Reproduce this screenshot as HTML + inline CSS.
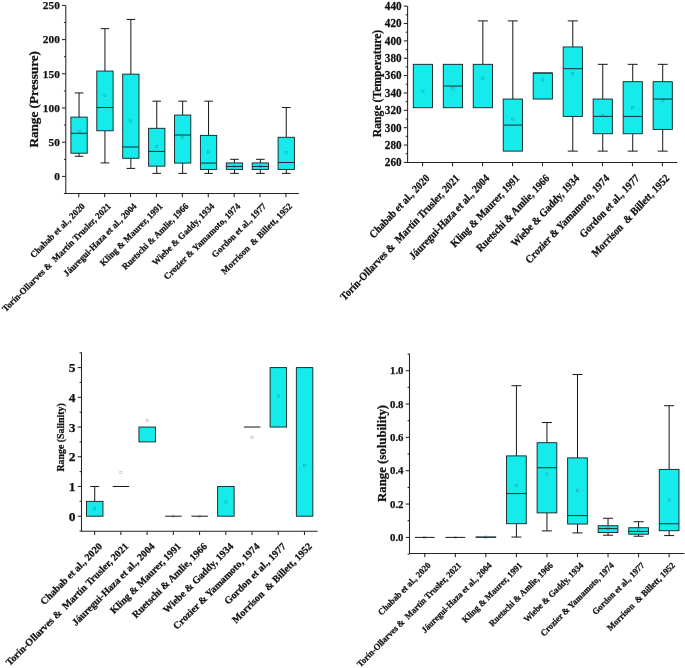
<!DOCTYPE html>
<html><head><meta charset="utf-8"><title>Box plots</title>
<style>
html,body{margin:0;padding:0;background:#fff}
svg{display:block}
text{font-family:"Liberation Serif",serif;font-weight:bold;fill:#111;stroke:#111;stroke-width:.25}
.a{stroke:#242424;stroke-width:1.05;fill:none}
.l{stroke:#161616;stroke-width:1;fill:none}
.m{stroke:#183434;stroke-width:1.05;fill:none}
.b{fill:#15ebeb;stroke:#141e1e;stroke-width:.9}
.mk{fill:none;stroke:#234;stroke-width:0.45;opacity:.45}
</style></head><body>
<svg width="685" height="668" viewBox="0 0 685 668">
<rect width="685" height="668" fill="#fff"/>
<path d="M79.05 117.1V92.95M74.75 92.95H83.35" class="l"/>
<path d="M79.05 153.21V156.29M74.75 156.29H83.35" class="l"/>
<rect x="70.9" y="117.1" width="16.3" height="36.12" class="b"/>
<path d="M70.9 133.31H87.2" class="m"/>
<rect x="77.95" y="130.16" width="2.2" height="2.2" class="mk"/>
<path d="M104.95 71.06V28.66M100.65 28.66H109.25" class="l"/>
<path d="M104.95 130.78V162.93M100.65 162.93H109.25" class="l"/>
<rect x="96.8" y="71.06" width="16.3" height="59.71" class="b"/>
<path d="M96.8 107.52H113.1" class="m"/>
<rect x="103.85" y="94.59" width="2.2" height="2.2" class="mk"/>
<path d="M130.85 74.14V19.42M126.55 19.42H135.15" class="l"/>
<path d="M130.85 158.27V168.4M126.55 168.4H135.15" class="l"/>
<rect x="122.7" y="74.14" width="16.3" height="84.13" class="b"/>
<path d="M122.7 146.99H139" class="m"/>
<rect x="129.75" y="119.9" width="2.2" height="2.2" class="mk"/>
<path d="M156.75 128.31V101.16M152.45 101.16H161.05" class="l"/>
<path d="M156.75 166.14V173.39M152.45 173.39H161.05" class="l"/>
<rect x="148.6" y="128.31" width="16.3" height="37.83" class="b"/>
<path d="M148.6 151.43H164.9" class="m"/>
<rect x="155.65" y="145.2" width="2.2" height="2.2" class="mk"/>
<path d="M182.65 115.05V101.16M178.35 101.16H186.95" class="l"/>
<path d="M182.65 163.06V173.39M178.35 173.39H186.95" class="l"/>
<rect x="174.5" y="115.05" width="16.3" height="48.02" class="b"/>
<path d="M174.5 135.02H190.8" class="m"/>
<rect x="181.55" y="136.31" width="2.2" height="2.2" class="mk"/>
<path d="M208.55 135.36V101.16M204.25 101.16H212.85" class="l"/>
<path d="M208.55 169.42V173.39M204.25 173.39H212.85" class="l"/>
<rect x="200.4" y="135.36" width="16.3" height="34.06" class="b"/>
<path d="M200.4 163.06H216.7" class="m"/>
<rect x="207.45" y="150.68" width="2.2" height="2.2" class="mk"/>
<path d="M234.45 162.93V159.3M230.15 159.3H238.75" class="l"/>
<path d="M234.45 169.42V173.39M230.15 173.39H238.75" class="l"/>
<rect x="226.3" y="162.93" width="16.3" height="6.5" class="b"/>
<path d="M226.3 166.48H242.6" class="m"/>
<rect x="233.35" y="165.38" width="2.2" height="2.2" class="mk"/>
<path d="M260.35 162.93V159.3M256.05 159.3H264.65" class="l"/>
<path d="M260.35 169.42V173.39M256.05 173.39H264.65" class="l"/>
<rect x="252.2" y="162.93" width="16.3" height="6.5" class="b"/>
<path d="M252.2 166.48H268.5" class="m"/>
<rect x="259.25" y="165.38" width="2.2" height="2.2" class="mk"/>
<path d="M286.25 137.28V107.52M281.95 107.52H290.55" class="l"/>
<path d="M286.25 169.42V173.39M281.95 173.39H290.55" class="l"/>
<rect x="278.1" y="137.28" width="16.3" height="32.15" class="b"/>
<path d="M278.1 162.51H294.4" class="m"/>
<rect x="285.15" y="151.36" width="2.2" height="2.2" class="mk"/>
<path d="M65.8 5.6V193.5H298.9" class="a"/>
<path d="M62 176.4H65.8" class="a"/>
<text transform="translate(59.8 180.13) scale(1 1)" text-anchor="end" font-size="11.3">0</text>
<path d="M62 142.2H65.8" class="a"/>
<text transform="translate(59.8 145.93) scale(1 1)" text-anchor="end" font-size="11.3">50</text>
<path d="M62 108H65.8" class="a"/>
<text transform="translate(59.8 111.73) scale(1 1)" text-anchor="end" font-size="11.3">100</text>
<path d="M62 73.8H65.8" class="a"/>
<text transform="translate(59.8 77.53) scale(1 1)" text-anchor="end" font-size="11.3">150</text>
<path d="M62 39.6H65.8" class="a"/>
<text transform="translate(59.8 43.33) scale(1 1)" text-anchor="end" font-size="11.3">200</text>
<path d="M62 5.4H65.8" class="a"/>
<text transform="translate(59.8 9.13) scale(1 1)" text-anchor="end" font-size="11.3">250</text>
<path d="M63.9 193.5H65.8" class="a"/>
<path d="M63.9 159.3H65.8" class="a"/>
<path d="M63.9 125.1H65.8" class="a"/>
<path d="M63.9 90.9H65.8" class="a"/>
<path d="M63.9 56.7H65.8" class="a"/>
<path d="M63.9 22.5H65.8" class="a"/>
<path d="M78.75 193.5V197.3" class="a"/>
<text transform="translate(85.45 206.8) scale(1 1) rotate(-45) scale(0.977 1)" text-anchor="end" font-size="9.15" xml:space="preserve">Chabab et al., 2020</text>
<path d="M104.65 193.5V197.3" class="a"/>
<text transform="translate(111.35 206.8) scale(1 1) rotate(-45) scale(0.977 1)" text-anchor="end" font-size="9.15" xml:space="preserve">Torín-Ollarves &amp;  Martín Trusler, 2021</text>
<path d="M130.55 193.5V197.3" class="a"/>
<text transform="translate(137.25 206.8) scale(1 1) rotate(-45) scale(0.977 1)" text-anchor="end" font-size="9.15" xml:space="preserve">Jáuregui-Haza et al., 2004</text>
<path d="M156.45 193.5V197.3" class="a"/>
<text transform="translate(163.15 206.8) scale(1 1) rotate(-45) scale(0.977 1)" text-anchor="end" font-size="9.15" xml:space="preserve">Kling &amp; Maurer, 1991</text>
<path d="M182.35 193.5V197.3" class="a"/>
<text transform="translate(189.05 206.8) scale(1 1) rotate(-45) scale(0.977 1)" text-anchor="end" font-size="9.15" xml:space="preserve">Ruetschi &amp; Amlie, 1966</text>
<path d="M208.25 193.5V197.3" class="a"/>
<text transform="translate(214.95 206.8) scale(1 1) rotate(-45) scale(0.977 1)" text-anchor="end" font-size="9.15" xml:space="preserve">Wiebe &amp; Gaddy, 1934</text>
<path d="M234.15 193.5V197.3" class="a"/>
<text transform="translate(240.85 206.8) scale(1 1) rotate(-45) scale(0.977 1)" text-anchor="end" font-size="9.15" xml:space="preserve">Crozier &amp; Yamamoto, 1974</text>
<path d="M260.05 193.5V197.3" class="a"/>
<text transform="translate(266.75 206.8) scale(1 1) rotate(-45) scale(0.977 1)" text-anchor="end" font-size="9.15" xml:space="preserve">Gordon et al., 1977</text>
<path d="M285.95 193.5V197.3" class="a"/>
<text transform="translate(292.65 206.8) scale(1 1) rotate(-45) scale(0.977 1)" text-anchor="end" font-size="9.15" xml:space="preserve">Morrison  &amp; Billett, 1952</text>
<text transform="translate(37.7 99.3) rotate(-90)" text-anchor="middle" font-size="13.2">Range (Pressure)</text>
<rect x="413.29" y="64.32" width="19.2" height="43.4" class="b"/>
<rect x="421.79" y="90.12" width="2.2" height="2.2" class="mk"/>
<rect x="443.27" y="64.32" width="19.2" height="43.4" class="b"/>
<path d="M443.27 86.02H462.47" class="m"/>
<rect x="451.77" y="87.09" width="2.2" height="2.2" class="mk"/>
<path d="M482.84 64.32V20.92M477.84 20.92H487.84" class="l"/>
<rect x="473.24" y="64.32" width="19.2" height="43.4" class="b"/>
<rect x="481.74" y="77.1" width="2.2" height="2.2" class="mk"/>
<path d="M512.82 99.04V20.92M507.82 20.92H517.82" class="l"/>
<rect x="503.22" y="99.04" width="19.2" height="52.08" class="b"/>
<path d="M503.22 125.08H522.42" class="m"/>
<rect x="511.72" y="117.9" width="2.2" height="2.2" class="mk"/>
<rect x="533.2" y="73" width="19.2" height="26.04" class="b"/>
<path d="M533.2 73H552.4" class="m"/>
<rect x="541.7" y="78.84" width="2.2" height="2.2" class="mk"/>
<path d="M572.78 46.96V20.92M567.78 20.92H577.78" class="l"/>
<path d="M572.78 116.4V151.12M567.78 151.12H577.78" class="l"/>
<rect x="563.18" y="46.96" width="19.2" height="69.44" class="b"/>
<path d="M563.18 68.66H582.38" class="m"/>
<rect x="571.68" y="72.76" width="2.2" height="2.2" class="mk"/>
<path d="M602.76 99.04V64.32M597.76 64.32H607.76" class="l"/>
<path d="M602.76 133.76V151.12M597.76 151.12H607.76" class="l"/>
<rect x="593.16" y="99.04" width="19.2" height="34.72" class="b"/>
<path d="M593.16 116.4H612.36" class="m"/>
<rect x="601.66" y="114.43" width="2.2" height="2.2" class="mk"/>
<path d="M632.73 81.68V64.32M627.73 64.32H637.73" class="l"/>
<path d="M632.73 133.76V151.12M627.73 151.12H637.73" class="l"/>
<rect x="623.13" y="81.68" width="19.2" height="52.08" class="b"/>
<path d="M623.13 116.4H642.33" class="m"/>
<rect x="631.63" y="106.62" width="2.2" height="2.2" class="mk"/>
<path d="M662.71 81.68V64.32M657.71 64.32H667.71" class="l"/>
<path d="M662.71 129.42V151.12M657.71 151.12H667.71" class="l"/>
<rect x="653.11" y="81.68" width="19.2" height="47.74" class="b"/>
<path d="M653.11 99.04H672.31" class="m"/>
<rect x="661.61" y="99.67" width="2.2" height="2.2" class="mk"/>
<path d="M407.6 6.2V162.4H677.4" class="a"/>
<path d="M403.8 162.4H407.6" class="a"/>
<text transform="translate(401.6 166.29) scale(0.95 1)" text-anchor="end" font-size="11.8">260</text>
<path d="M403.8 145.04H407.6" class="a"/>
<text transform="translate(401.6 148.93) scale(0.95 1)" text-anchor="end" font-size="11.8">280</text>
<path d="M403.8 127.68H407.6" class="a"/>
<text transform="translate(401.6 131.57) scale(0.95 1)" text-anchor="end" font-size="11.8">300</text>
<path d="M403.8 110.32H407.6" class="a"/>
<text transform="translate(401.6 114.21) scale(0.95 1)" text-anchor="end" font-size="11.8">320</text>
<path d="M403.8 92.96H407.6" class="a"/>
<text transform="translate(401.6 96.85) scale(0.95 1)" text-anchor="end" font-size="11.8">340</text>
<path d="M403.8 75.6H407.6" class="a"/>
<text transform="translate(401.6 79.49) scale(0.95 1)" text-anchor="end" font-size="11.8">360</text>
<path d="M403.8 58.24H407.6" class="a"/>
<text transform="translate(401.6 62.13) scale(0.95 1)" text-anchor="end" font-size="11.8">380</text>
<path d="M403.8 40.88H407.6" class="a"/>
<text transform="translate(401.6 44.77) scale(0.95 1)" text-anchor="end" font-size="11.8">400</text>
<path d="M403.8 23.52H407.6" class="a"/>
<text transform="translate(401.6 27.41) scale(0.95 1)" text-anchor="end" font-size="11.8">420</text>
<path d="M403.8 6.16H407.6" class="a"/>
<text transform="translate(401.6 10.05) scale(0.95 1)" text-anchor="end" font-size="11.8">440</text>
<path d="M405.7 153.72H407.6" class="a"/>
<path d="M405.7 136.36H407.6" class="a"/>
<path d="M405.7 119H407.6" class="a"/>
<path d="M405.7 101.64H407.6" class="a"/>
<path d="M405.7 84.28H407.6" class="a"/>
<path d="M405.7 66.92H407.6" class="a"/>
<path d="M405.7 49.56H407.6" class="a"/>
<path d="M405.7 32.2H407.6" class="a"/>
<path d="M405.7 14.84H407.6" class="a"/>
<path d="M422.59 162.4V166.2" class="a"/>
<text transform="translate(430.09 178.9) scale(1 1.06) rotate(-45) scale(0.922 1)" text-anchor="end" font-size="10.6" xml:space="preserve">Chabab et al., 2020</text>
<path d="M452.57 162.4V166.2" class="a"/>
<text transform="translate(460.07 178.9) scale(1 1.06) rotate(-45) scale(0.922 1)" text-anchor="end" font-size="10.6" xml:space="preserve">Torín-Ollarves &amp;  Martín Trusler, 2021</text>
<path d="M482.54 162.4V166.2" class="a"/>
<text transform="translate(490.04 178.9) scale(1 1.06) rotate(-45) scale(0.922 1)" text-anchor="end" font-size="10.6" xml:space="preserve">Jáuregui-Haza et al., 2004</text>
<path d="M512.52 162.4V166.2" class="a"/>
<text transform="translate(520.02 178.9) scale(1 1.06) rotate(-45) scale(0.922 1)" text-anchor="end" font-size="10.6" xml:space="preserve">Kling &amp; Maurer, 1991</text>
<path d="M542.5 162.4V166.2" class="a"/>
<text transform="translate(550 178.9) scale(1 1.06) rotate(-45) scale(0.922 1)" text-anchor="end" font-size="10.6" xml:space="preserve">Ruetschi &amp; Amlie, 1966</text>
<path d="M572.48 162.4V166.2" class="a"/>
<text transform="translate(579.98 178.9) scale(1 1.06) rotate(-45) scale(0.922 1)" text-anchor="end" font-size="10.6" xml:space="preserve">Wiebe &amp; Gaddy, 1934</text>
<path d="M602.46 162.4V166.2" class="a"/>
<text transform="translate(609.96 178.9) scale(1 1.06) rotate(-45) scale(0.922 1)" text-anchor="end" font-size="10.6" xml:space="preserve">Crozier &amp; Yamamoto, 1974</text>
<path d="M632.43 162.4V166.2" class="a"/>
<text transform="translate(639.93 178.9) scale(1 1.06) rotate(-45) scale(0.922 1)" text-anchor="end" font-size="10.6" xml:space="preserve">Gordon et al., 1977</text>
<path d="M662.41 162.4V166.2" class="a"/>
<text transform="translate(669.91 178.9) scale(1 1.06) rotate(-45) scale(0.922 1)" text-anchor="end" font-size="10.6" xml:space="preserve">Morrison  &amp; Billett, 1952</text>
<text transform="translate(380.5 83.5) rotate(-90)" text-anchor="middle" font-size="11.7">Range (Temperature)</text>
<path d="M94.72 501.34V486.48M90.32 486.48H99.12" class="l"/>
<rect x="86.47" y="501.34" width="16.5" height="14.86" class="b"/>
<rect x="93.62" y="507.67" width="2.2" height="2.2" class="mk"/>
<path d="M112.7 486.48H129.2" class="l"/>
<rect x="119.85" y="471.41" width="2.2" height="2.2" class="mk"/>
<rect x="138.93" y="427.04" width="16.5" height="14.86" class="b"/>
<rect x="146.08" y="419.4" width="2.2" height="2.2" class="mk"/>
<path d="M165.17 516.2H181.67" class="l"/>
<rect x="172.32" y="515.1" width="2.2" height="2.2" class="mk"/>
<path d="M191.4 516.2H207.9" class="l"/>
<rect x="198.55" y="515.1" width="2.2" height="2.2" class="mk"/>
<rect x="217.63" y="486.48" width="16.5" height="29.72" class="b"/>
<rect x="224.78" y="500.83" width="2.2" height="2.2" class="mk"/>
<path d="M243.87 427.04H260.37" class="l"/>
<rect x="251.02" y="436.34" width="2.2" height="2.2" class="mk"/>
<rect x="270.1" y="367.6" width="16.5" height="59.44" class="b"/>
<rect x="277.25" y="395.03" width="2.2" height="2.2" class="mk"/>
<rect x="296.33" y="367.6" width="16.5" height="148.6" class="b"/>
<rect x="303.48" y="464.58" width="2.2" height="2.2" class="mk"/>
<path d="M81.5 352.4V531.2H317.6" class="a"/>
<path d="M77.7 516.2H81.5" class="a"/>
<text transform="translate(75.5 520.66) scale(1 1)" text-anchor="end" font-size="13.5">0</text>
<path d="M77.7 486.48H81.5" class="a"/>
<text transform="translate(75.5 490.94) scale(1 1)" text-anchor="end" font-size="13.5">1</text>
<path d="M77.7 456.76H81.5" class="a"/>
<text transform="translate(75.5 461.22) scale(1 1)" text-anchor="end" font-size="13.5">2</text>
<path d="M77.7 427.04H81.5" class="a"/>
<text transform="translate(75.5 431.5) scale(1 1)" text-anchor="end" font-size="13.5">3</text>
<path d="M77.7 397.32H81.5" class="a"/>
<text transform="translate(75.5 401.78) scale(1 1)" text-anchor="end" font-size="13.5">4</text>
<path d="M77.7 367.6H81.5" class="a"/>
<text transform="translate(75.5 372.06) scale(1 1)" text-anchor="end" font-size="13.5">5</text>
<path d="M79.6 531.06H81.5" class="a"/>
<path d="M79.6 501.34H81.5" class="a"/>
<path d="M79.6 471.62H81.5" class="a"/>
<path d="M79.6 441.9H81.5" class="a"/>
<path d="M79.6 412.18H81.5" class="a"/>
<path d="M79.6 382.46H81.5" class="a"/>
<path d="M79.6 352.74H81.5" class="a"/>
<path d="M94.62 531.2V535" class="a"/>
<text transform="translate(102.82 546.95) scale(1 1) rotate(-45) scale(1 1)" text-anchor="end" font-size="10.1" xml:space="preserve">Chabab et al., 2020</text>
<path d="M120.85 531.2V535" class="a"/>
<text transform="translate(129.05 546.95) scale(1 1) rotate(-45) scale(1 1)" text-anchor="end" font-size="10.1" xml:space="preserve">Torín-Ollarves &amp;  Martín Trusler, 2021</text>
<path d="M147.08 531.2V535" class="a"/>
<text transform="translate(155.28 546.95) scale(1 1) rotate(-45) scale(1 1)" text-anchor="end" font-size="10.1" xml:space="preserve">Jáuregui-Haza et al., 2004</text>
<path d="M173.32 531.2V535" class="a"/>
<text transform="translate(181.52 546.95) scale(1 1) rotate(-45) scale(1 1)" text-anchor="end" font-size="10.1" xml:space="preserve">Kling &amp; Maurer, 1991</text>
<path d="M199.55 531.2V535" class="a"/>
<text transform="translate(207.75 546.95) scale(1 1) rotate(-45) scale(1 1)" text-anchor="end" font-size="10.1" xml:space="preserve">Ruetschi &amp; Amlie, 1966</text>
<path d="M225.78 531.2V535" class="a"/>
<text transform="translate(233.98 546.95) scale(1 1) rotate(-45) scale(1 1)" text-anchor="end" font-size="10.1" xml:space="preserve">Wiebe &amp; Gaddy, 1934</text>
<path d="M252.02 531.2V535" class="a"/>
<text transform="translate(260.22 546.95) scale(1 1) rotate(-45) scale(1 1)" text-anchor="end" font-size="10.1" xml:space="preserve">Crozier &amp; Yamamoto, 1974</text>
<path d="M278.25 531.2V535" class="a"/>
<text transform="translate(286.45 546.95) scale(1 1) rotate(-45) scale(1 1)" text-anchor="end" font-size="10.1" xml:space="preserve">Gordon et al., 1977</text>
<path d="M304.48 531.2V535" class="a"/>
<text transform="translate(312.68 546.95) scale(1 1) rotate(-45) scale(1 1)" text-anchor="end" font-size="10.1" xml:space="preserve">Morrison  &amp; Billett, 1952</text>
<text transform="translate(64 437.4) rotate(-90)" text-anchor="middle" font-size="9.9">Range (Salinity)</text>
<path d="M414.92 537.4H434.62" class="l"/>
<rect x="423.67" y="536.3" width="2.2" height="2.2" class="mk"/>
<path d="M445.47 537.4H465.17" class="l"/>
<rect x="454.22" y="536.3" width="2.2" height="2.2" class="mk"/>
<rect x="476.01" y="536.9" width="19.7" height="0.5" class="b"/>
<rect x="484.76" y="535.97" width="2.2" height="2.2" class="mk"/>
<path d="M516.41 455.88V385.7M511.41 385.7H521.41" class="l"/>
<path d="M516.41 523.73V537.07M511.41 537.07H521.41" class="l"/>
<rect x="506.56" y="455.88" width="19.7" height="67.85" class="b"/>
<path d="M506.56 493.56H526.26" class="m"/>
<rect x="515.31" y="484.62" width="2.2" height="2.2" class="mk"/>
<path d="M546.95 442.71V422.54M541.95 422.54H551.95" class="l"/>
<path d="M546.95 512.9V530.9M541.95 530.9H551.95" class="l"/>
<rect x="537.1" y="442.71" width="19.7" height="70.18" class="b"/>
<path d="M537.1 467.72H556.8" class="m"/>
<rect x="545.85" y="472.95" width="2.2" height="2.2" class="mk"/>
<path d="M577.49 457.88V374.53M572.49 374.53H582.49" class="l"/>
<path d="M577.49 524.06V532.9M572.49 532.9H582.49" class="l"/>
<rect x="567.64" y="457.88" width="19.7" height="66.18" class="b"/>
<path d="M567.64 515.56H587.34" class="m"/>
<rect x="576.39" y="489.62" width="2.2" height="2.2" class="mk"/>
<path d="M608.04 525.73V518.23M603.04 518.23H613.04" class="l"/>
<path d="M608.04 532.57V535.23M603.04 535.23H613.04" class="l"/>
<rect x="598.19" y="525.73" width="19.7" height="6.83" class="b"/>
<path d="M598.19 528.56H617.89" class="m"/>
<rect x="606.94" y="527.13" width="2.2" height="2.2" class="mk"/>
<path d="M638.58 527.73V521.73M633.58 521.73H643.58" class="l"/>
<path d="M638.58 534.23V536.23M633.58 536.23H643.58" class="l"/>
<rect x="628.73" y="527.73" width="19.7" height="6.5" class="b"/>
<path d="M628.73 531.4H648.43" class="m"/>
<rect x="637.48" y="528.8" width="2.2" height="2.2" class="mk"/>
<path d="M669.13 469.39V405.71M664.13 405.71H674.13" class="l"/>
<path d="M669.13 530.73V535.57M664.13 535.57H674.13" class="l"/>
<rect x="659.28" y="469.39" width="19.7" height="61.35" class="b"/>
<path d="M659.28 523.73H678.98" class="m"/>
<rect x="668.03" y="498.79" width="2.2" height="2.2" class="mk"/>
<path d="M409.5 353.8V553.4H684.4" class="a"/>
<path d="M405.7 537.4H409.5" class="a"/>
<text transform="translate(403.5 540.96) scale(1 1)" text-anchor="end" font-size="10.8">0.0</text>
<path d="M405.7 504.06H409.5" class="a"/>
<text transform="translate(403.5 507.62) scale(1 1)" text-anchor="end" font-size="10.8">0.2</text>
<path d="M405.7 470.72H409.5" class="a"/>
<text transform="translate(403.5 474.28) scale(1 1)" text-anchor="end" font-size="10.8">0.4</text>
<path d="M405.7 437.38H409.5" class="a"/>
<text transform="translate(403.5 440.94) scale(1 1)" text-anchor="end" font-size="10.8">0.6</text>
<path d="M405.7 404.04H409.5" class="a"/>
<text transform="translate(403.5 407.6) scale(1 1)" text-anchor="end" font-size="10.8">0.8</text>
<path d="M405.7 370.7H409.5" class="a"/>
<text transform="translate(403.5 374.26) scale(1 1)" text-anchor="end" font-size="10.8">1.0</text>
<path d="M407.6 554.07H409.5" class="a"/>
<path d="M407.6 520.73H409.5" class="a"/>
<path d="M407.6 487.39H409.5" class="a"/>
<path d="M407.6 454.05H409.5" class="a"/>
<path d="M407.6 420.71H409.5" class="a"/>
<path d="M407.6 387.37H409.5" class="a"/>
<path d="M407.6 354.03H409.5" class="a"/>
<path d="M424.77 553.4V557.2" class="a"/>
<text transform="translate(431.27 566) scale(1 1) rotate(-45) scale(0.965 1)" text-anchor="end" font-size="8.9" xml:space="preserve">Chabab et al., 2020</text>
<path d="M455.32 553.4V557.2" class="a"/>
<text transform="translate(461.82 566) scale(1 1) rotate(-45) scale(0.965 1)" text-anchor="end" font-size="8.9" xml:space="preserve">Torín-Ollarves &amp;  Martín Trusler, 2021</text>
<path d="M485.86 553.4V557.2" class="a"/>
<text transform="translate(492.36 566) scale(1 1) rotate(-45) scale(0.965 1)" text-anchor="end" font-size="8.9" xml:space="preserve">Jáuregui-Haza et al., 2004</text>
<path d="M516.41 553.4V557.2" class="a"/>
<text transform="translate(522.91 566) scale(1 1) rotate(-45) scale(0.965 1)" text-anchor="end" font-size="8.9" xml:space="preserve">Kling &amp; Maurer, 1991</text>
<path d="M546.95 553.4V557.2" class="a"/>
<text transform="translate(553.45 566) scale(1 1) rotate(-45) scale(0.965 1)" text-anchor="end" font-size="8.9" xml:space="preserve">Ruetschi &amp; Amlie, 1966</text>
<path d="M577.49 553.4V557.2" class="a"/>
<text transform="translate(583.99 566) scale(1 1) rotate(-45) scale(0.965 1)" text-anchor="end" font-size="8.9" xml:space="preserve">Wiebe &amp; Gaddy, 1934</text>
<path d="M608.04 553.4V557.2" class="a"/>
<text transform="translate(614.54 566) scale(1 1) rotate(-45) scale(0.965 1)" text-anchor="end" font-size="8.9" xml:space="preserve">Crozier &amp; Yamamoto, 1974</text>
<path d="M638.58 553.4V557.2" class="a"/>
<text transform="translate(645.08 566) scale(1 1) rotate(-45) scale(0.965 1)" text-anchor="end" font-size="8.9" xml:space="preserve">Gordon et al., 1977</text>
<path d="M669.13 553.4V557.2" class="a"/>
<text transform="translate(675.63 566) scale(1 1) rotate(-45) scale(0.965 1)" text-anchor="end" font-size="8.9" xml:space="preserve">Morrison  &amp; Billett, 1952</text>
<text transform="translate(385.5 453.4) rotate(-90)" text-anchor="middle" font-size="12.8">Range (solubility)</text>
</svg>
</body></html>
